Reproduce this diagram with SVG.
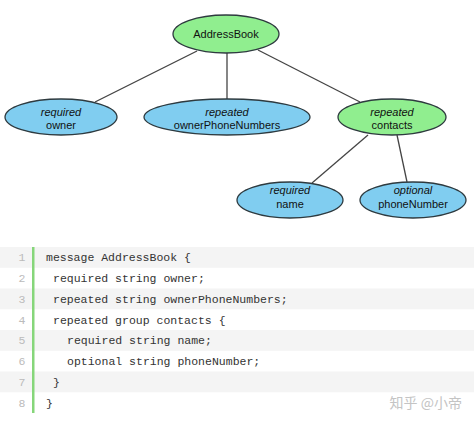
<svg xmlns="http://www.w3.org/2000/svg" width="474" height="423" viewBox="0 0 474 423">
<style>
.node{stroke:#2e3a3f;stroke-width:1.3}
.green{fill:#90ee8f}
.blue{fill:#80cdf0}
.lbl{font-family:"Liberation Sans",Arial,sans-serif;font-size:11px;fill:#111;text-anchor:middle}
.it{font-style:italic}
.edge{stroke:#444;stroke-width:1.3;fill:none}
.band{fill:#f4f4f4}
.ln{font-family:"Liberation Mono","Courier New",monospace;font-size:11.5px;fill:#bbbbbb;text-anchor:middle}
.code{font-family:"Liberation Mono","Courier New",monospace;font-size:11.5px;fill:#333;white-space:pre}
</style>
<rect width="474" height="423" fill="#ffffff"/>
<g id="connectors">
<line class="edge" x1="197" y1="51" x2="95" y2="102"/>
<line class="edge" x1="227" y1="53" x2="227" y2="99"/>
<line class="edge" x1="258" y1="50" x2="360" y2="102"/>
<line class="edge" x1="368" y1="135" x2="312" y2="183"/>
<line class="edge" x1="397" y1="135" x2="407" y2="182"/>
</g>
<g id="node-addressbook">
<ellipse class="node green" cx="226" cy="34" rx="53" ry="19"/>
<text class="lbl" x="226" y="38">AddressBook</text>
</g>
<g id="node-owner">
<ellipse class="node blue" cx="61" cy="117" rx="56" ry="18"/>
<text class="lbl it" x="61" y="115.5">required</text>
<text class="lbl" x="61" y="129">owner</text>
</g>
<g id="node-ownerphonenumbers">
<ellipse class="node blue" cx="227" cy="117" rx="83" ry="18"/>
<text class="lbl it" x="227" y="115.5">repeated</text>
<text class="lbl" x="227" y="129">ownerPhoneNumbers</text>
</g>
<g id="node-contacts">
<ellipse class="node green" cx="392" cy="117" rx="54" ry="18"/>
<text class="lbl it" x="392" y="115.5">repeated</text>
<text class="lbl" x="392" y="129">contacts</text>
</g>
<g id="node-name">
<ellipse class="node blue" cx="290" cy="200" rx="53" ry="18"/>
<text class="lbl it" x="290" y="194">required</text>
<text class="lbl" x="290" y="207.5">name</text>
</g>
<g id="node-phonenumber">
<ellipse class="node blue" cx="413" cy="200" rx="53" ry="18"/>
<text class="lbl it" x="413" y="194">optional</text>
<text class="lbl" x="413" y="207.5">phoneNumber</text>
</g>
<g id="code">
<rect class="band" x="0" y="247" width="474" height="20.75"/>
<rect class="band" x="0" y="288.5" width="474" height="20.75"/>
<rect class="band" x="0" y="330" width="474" height="20.75"/>
<rect class="band" x="0" y="371.5" width="474" height="20.75"/>
<rect x="32" y="247" width="2.5" height="166" fill="#86d67a"/>
<text class="ln" x="22" y="261">1</text>
<text class="ln" x="22" y="282">2</text>
<text class="ln" x="22" y="302.5">3</text>
<text class="ln" x="22" y="323.5">4</text>
<text class="ln" x="22" y="344">5</text>
<text class="ln" x="22" y="365">6</text>
<text class="ln" x="22" y="385.5">7</text>
<text class="ln" x="22" y="406.5">8</text>
<text class="code" x="46" y="261">message AddressBook {</text>
<text class="code" x="53" y="282">required string owner;</text>
<text class="code" x="53" y="302.5">repeated string ownerPhoneNumbers;</text>
<text class="code" x="53" y="323.5">repeated group contacts {</text>
<text class="code" x="67" y="344">required string name;</text>
<text class="code" x="67" y="365">optional string phoneNumber;</text>
<text class="code" x="53" y="385.5">}</text>
<text class="code" x="46" y="406.5">}</text>
<text x="462" y="408" font-family="'Noto Sans CJK SC','Liberation Sans',sans-serif" font-size="14" fill="#c4c4c4" text-anchor="end">知乎 @小帝</text>
</g>
</svg>
